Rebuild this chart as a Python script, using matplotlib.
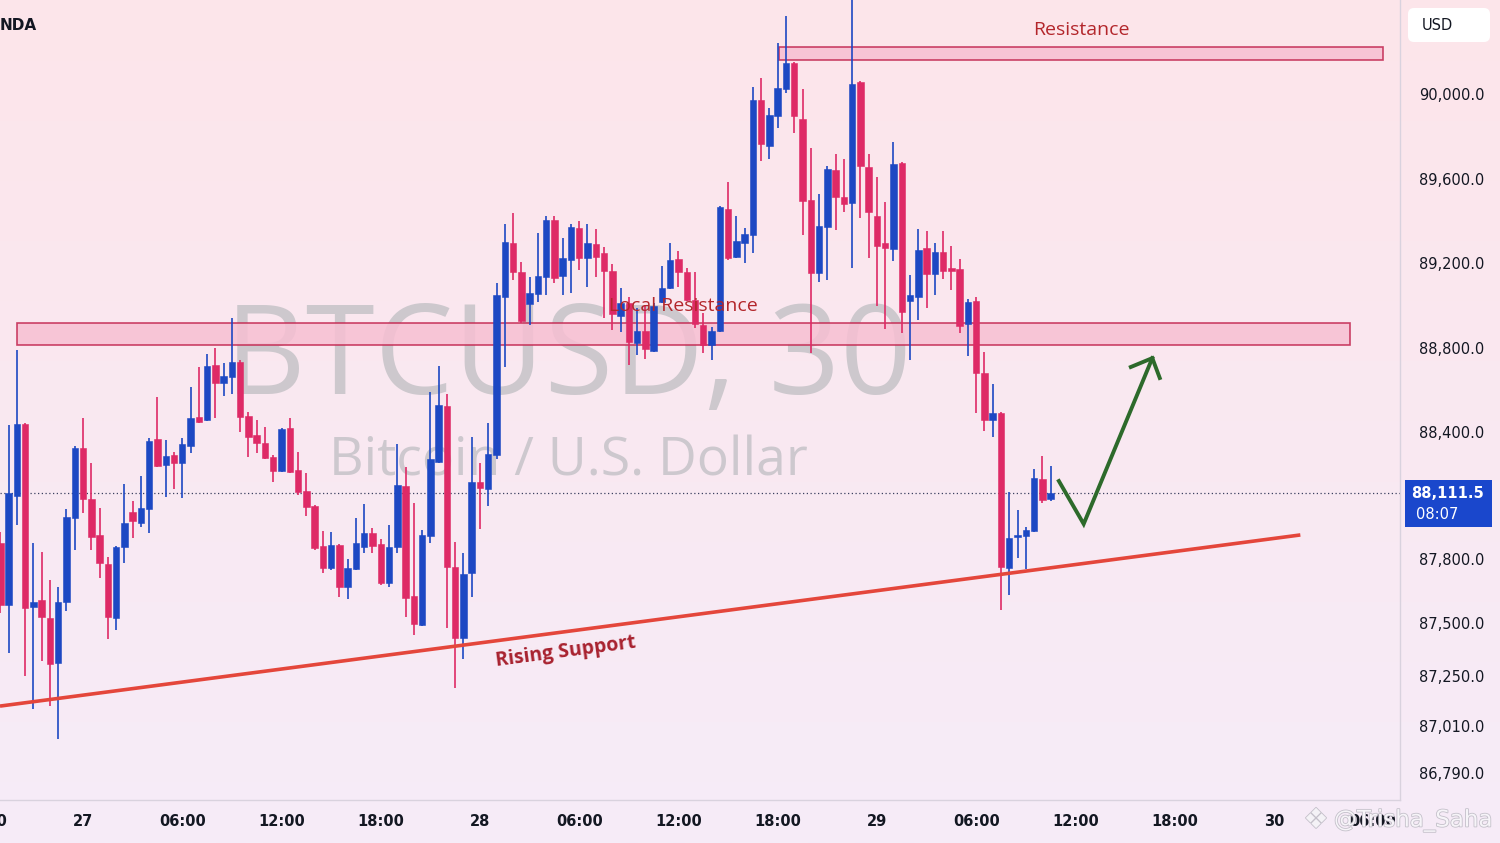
import matplotlib
matplotlib.use("Agg")
import matplotlib.pyplot as plt
import matplotlib.transforms as mtransforms
import matplotlib.patheffects as pe
from matplotlib.patches import Rectangle, FancyBboxPatch
import numpy as np

# ---------------- data (30-minute bars, index 0 = 27th 00:00) ----------------
first_bar = -10
opens = [87877, 87584, 88099, 88439, 87574, 87607, 87522, 87309, 87598, 87995,
         88326, 88085, 87914, 87777, 87522, 87858, 88023, 87971, 88037, 88368,
         88245, 88293, 88255, 88335, 88472, 88458, 88718, 88633, 88662, 88733,
         88477, 88387, 88350, 88283, 88217, 88420, 88222, 88123, 88052, 87862,
         87758, 87867, 87669, 87754, 87858, 87924, 87872, 87688, 87858, 88146,
         87626, 87489, 87910, 88260, 88524, 87763, 87428, 87735, 88165, 88132,
         88293, 89040, 89295, 89158, 89007, 89054, 89134, 89404, 89139, 89215,
         89366, 89224, 89290, 89248, 89163, 88950, 89011, 88822, 88879, 88785,
         89016, 89082, 89219, 89158, 89026, 88907, 88813, 88879, 89456, 89229,
         89295, 89333, 89971, 89754, 89896, 90023, 90146, 89881, 89498, 89153,
         89371, 89640, 89513, 89484, 90056, 89654, 89423, 89295, 89267, 89673,
         89021, 89040, 89272, 89148, 89252, 89177, 89172, 88912, 89021, 88680,
         88458, 88491, 87758, 87905, 87910, 87933, 88179, 88085]
highs = [87929, 88435, 88789, 88445, 87877, 87834, 87702, 87669, 88037, 88335,
         88468, 88255, 88042, 87810, 87862, 88156, 88075, 88194, 88373, 88567,
         88364, 88307, 88373, 88614, 88709, 88770, 88799, 88728, 88941, 88742,
         88496, 88458, 88425, 88293, 88420, 88468, 88307, 88208, 88055, 87933,
         87929, 87872, 87801, 87995, 88061, 87948, 87896, 87962, 88345, 88236,
         88066, 87938, 88591, 88714, 88581, 87881, 87829, 88378, 88255, 88444,
         89106, 89385, 89437, 89205, 89134, 89342, 89423, 89423, 89319, 89385,
         89399, 89385, 89361, 89276, 89196, 89082, 89040, 88988, 89002, 89011,
         89186, 89295, 89257, 89177, 89160, 88964, 88898, 89470, 89584, 89423,
         89366, 90033, 90075, 89933, 90241, 90368, 90150, 90023, 89744, 89527,
         89659, 89716, 89692, 90480, 90060, 89716, 89607, 89489, 89773, 89680,
         89144, 89361, 89352, 89295, 89352, 89281, 89219, 89030, 89040, 88780,
         88628, 88495, 88118, 88033, 87952, 88227, 88288, 88241]
lows = [87546, 87357, 87962, 87248, 87092, 87319, 87106, 86950, 87555, 87844,
        88018, 87844, 87711, 87423, 87465, 87782, 87900, 87952, 87924, 88235,
        88094, 88132, 88089, 88302, 88444, 88455, 88468, 88572, 88581, 88402,
        88283, 88302, 88275, 88165, 88212, 88208, 88104, 88004, 87844, 87735,
        87749, 87621, 87612, 87750, 87829, 87829, 87678, 87669, 87829, 87527,
        87442, 87485, 87877, 88255, 87475, 87191, 87328, 87621, 87943, 88052,
        88274, 88709, 89120, 88917, 88907, 89016, 89049, 89106, 89049, 89059,
        89167, 89087, 89134, 88941, 88884, 88874, 88718, 88766, 88747, 88780,
        89012, 89078, 89087, 89022, 88893, 88775, 88742, 88875, 89215, 89225,
        89200, 89248, 89683, 89692, 89839, 90004, 89815, 89333, 88775, 89111,
        89120, 89357, 89442, 89177, 89413, 89224, 88997, 88889, 89210, 88870,
        88742, 88931, 88988, 89049, 89125, 89073, 88870, 88761, 88491, 88406,
        88378, 87560, 87631, 87806, 87754, 87930, 88066, 88075]
closes = [87584, 88113, 88439, 87569, 87598, 87527, 87305, 87598, 88000, 88326,
          88085, 87905, 87782, 87527, 87858, 87971, 87981, 88042, 88359, 88241,
          88288, 88255, 88345, 88468, 88449, 88714, 88633, 88666, 88733, 88472,
          88378, 88350, 88279, 88217, 88416, 88212, 88118, 88047, 87853, 87758,
          87867, 87669, 87758, 87877, 87924, 87862, 87688, 87858, 88151, 87617,
          87494, 87914, 88274, 88529, 87763, 87428, 87730, 88165, 88137, 88297,
          89049, 89300, 89158, 88926, 89059, 89139, 89404, 89130, 89224, 89371,
          89224, 89295, 89229, 89163, 88959, 89011, 88827, 88879, 88794, 88997,
          89082, 89215, 89158, 89026, 88912, 88813, 88879, 89465, 89224, 89305,
          89338, 89971, 89763, 89900, 90028, 90146, 89896, 89494, 89153, 89375,
          89645, 89513, 89480, 90047, 89659, 89442, 89281, 89272, 89669, 88969,
          89049, 89262, 89148, 89252, 89163, 89163, 88903, 89016, 88680, 88458,
          88491, 87763, 87900, 87914, 87938, 88184, 88080, 88111.5]

tick_bars = [0, 12, 24, 36, 48, 60, 72, 84, 96, 108, 120, 132, 144, 156]
tick_labels = ["27", "06:00", "12:00", "18:00", "28", "06:00", "12:00",
               "18:00", "29", "06:00", "12:00", "18:00", "30", "06:00"]
cut_tick_bar = -12          # "18:00" of the 26th, only partly visible at the left edge
cut_tick_label = "18:00"
price_ticks = [90000, 89600, 89200, 88800, 88400, 87800, 87500, 87250, 87010, 86790]
last_price = 88111.5
countdown = "08:07"

# drawings
resistance_zone = dict(x0=84.2, x1=157.2, low=90160, high=90222)
local_zone = dict(x0=-8.0, x1=153.2, low=88813, high=88917)
support_x = [-10.04, 147.2]
support_y = [87106, 87915]
arrow_x = [118.0, 121.0, 129.3]
arrow_y = [88170, 87967, 88751]
arrow_head_x = [126.7, 129.3, 130.2]
arrow_head_y = [88709, 88751, 88657]

x_range = (-10.04, 159.25)
y_range = (86662, 90444)

UP = "#1d48c3"
DOWN = "#de2a66"
TXT = "#131722"

# ---------------- figure ----------------
W, H = 1500, 843
fig = plt.figure(figsize=(W / 100, H / 100), dpi=100)

# background gradient
bg = fig.add_axes([0, 0, 1, 1], zorder=-10)
top = np.array([253, 229, 234]) / 255
bot = np.array([246, 236, 248]) / 255
t = np.linspace(0, 1, 843)[:, None]
grad = top[None, :] * (1 - t) + bot[None, :] * t
bg.imshow(grad[:, None, :], aspect="auto", extent=[0, 1, 0, 1], interpolation="bilinear")
bg.set_axis_off()

ax = fig.add_axes([0, 43 / H, 1400 / W, 800 / H])
ax.patch.set_alpha(0)

# watermark
wm_font = ["Open Sans", "DejaVu Sans"]
ax.text(0.406, 0.5475, "BTCUSD, 30", transform=ax.transAxes, ha="center", va="center",
        fontsize=90, color="#cdc8cd", family=wm_font, zorder=0)
ax.text(0.406, 0.4225, "Bitcoin / U.S. Dollar", transform=ax.transAxes, ha="center",
        va="center", fontsize=38.5, color="#cdc8ce", family=wm_font, zorder=0)

# zones
for z in (resistance_zone, local_zone):
    ax.add_patch(Rectangle((z["x0"], z["low"]), z["x1"] - z["x0"], z["high"] - z["low"],
                           facecolor="#f7bfd2", edgecolor="#c2254f", lw=1.2, alpha=0.85,
                           zorder=1))

# candles
n = len(opens)
xs = np.arange(first_bar, first_bar + n)
o = np.array(opens, float); c = np.array(closes, float)
hi = np.array(highs, float); lo = np.array(lows, float)
colors = np.where(c >= o, UP, DOWN)
ax.vlines(xs, lo, hi, colors=colors, lw=1.2, zorder=3)
body_low = np.minimum(o, c)
body_h = np.maximum(np.abs(c - o), 6)
ax.bar(xs, body_h, bottom=body_low, width=0.78, color=colors, edgecolor=colors,
       lw=0.4, zorder=4)

# last price line
ax.axhline(last_price, color="#3b4060", lw=0.9, ls=(0, (1, 2)), zorder=2)

# support line
ax.plot(support_x, support_y, color="#e4463b", lw=2.6, zorder=5, solid_capstyle="butt")

# green arrow
ax.plot(arrow_x, arrow_y, color="#2d6a2b", lw=2.8, zorder=6, solid_joinstyle="miter")
ax.plot(arrow_head_x, arrow_head_y, color="#2d6a2b", lw=2.8, zorder=6,
        solid_joinstyle="miter")

# labels
lbl_font = ["Open Sans", "DejaVu Sans"]
ax.text(120.7, 90302, "Resistance", ha="center", va="center", fontsize=14,
        color="#b3262b", family=lbl_font, zorder=7)
ax.text(72.55, 88997, "Local Resistance", ha="center", va="center", fontsize=14,
        color="#b3262b", family=lbl_font, zorder=7)
ax.text(58.4, 87361, "Rising Support", ha="center", va="center", fontsize=14,
        color="#a8222f", family=lbl_font, fontweight="bold", rotation=7.5,
        rotation_mode="anchor", zorder=7)

# axes styling
for s in ("top", "left"):
    ax.spines[s].set_visible(False)
for s in ("right", "bottom"):
    ax.spines[s].set_color("#d9d2de")
    ax.spines[s].set_linewidth(1.0)
ax.yaxis.tick_right()
ax.set_yticks(price_ticks)
ax.set_yticklabels([f"{p:,.1f}" for p in price_ticks])
ax.tick_params(axis="y", length=0, pad=14, labelsize=10.5, labelcolor=TXT)
ax.set_xticks(tick_bars)
ax.set_xticklabels(tick_labels)
ax.tick_params(axis="x", length=0, pad=10, labelsize=10.5, labelcolor=TXT)
for lab in ax.get_xticklabels():
    lab.set_fontweight("bold")
# limits set after the ticks so that the ticks do not widen the view
ax.set_xlim(*x_range)
ax.set_ylim(*y_range)

# partly visible tick label at the left edge
xblend = mtransforms.blended_transform_factory(ax.transData, ax.transAxes)
ax.text(cut_tick_bar, -22 / 800, cut_tick_label, transform=xblend, ha="center",
        va="center", fontsize=10.5, fontweight="bold", color=TXT, clip_on=False)

# price label box
blend = mtransforms.blended_transform_factory(ax.transAxes, ax.transData)
px = (y_range[1] - y_range[0]) / 800.0
ax.add_patch(Rectangle((1405 / 1400, last_price - 34 * px), 87 / 1400, 47 * px,
                       facecolor="#1a47cc", edgecolor="none", transform=blend,
                       clip_on=False, zorder=8))
ax.text(1448 / 1400, last_price, f"{last_price:,.1f}", transform=blend, ha="center",
        va="center", fontsize=10.5, color="white", fontweight="bold", zorder=9,
        clip_on=False)
ax.text(1437 / 1400, last_price - 21 * px, countdown, transform=blend, ha="center",
        va="center", fontsize=10.5, color="white", zorder=9, clip_on=False)

# USD box
fig.patches.append(FancyBboxPatch((1408 / W, 1 - 42 / H), 82 / W, 34 / H,
                                  boxstyle="round,pad=0,rounding_size=0.004",
                                  mutation_aspect=W / H, facecolor="white",
                                  edgecolor="none", transform=fig.transFigure))
fig.text(1437 / W, 1 - 25 / H, "USD", ha="center", va="center", fontsize=10.5, color=TXT)

# top-left symbol fragment
fig.text(0, 1 - 25 / H, "NDA", ha="left", va="center", fontsize=11, fontweight="bold",
         color=TXT)

# author watermark
fig.text(1316 / W, 1 - 820 / H, "\u2756", ha="center", va="center", fontsize=20,
         color="#f4f2f6", path_effects=[pe.withStroke(linewidth=1.2, foreground="#c4c0ca")])
fig.text(1334 / W, 1 - 820 / H, "@Trisha_Saha", ha="left", va="center", fontsize=16.5,
         color="#f6f4f8", path_effects=[pe.withStroke(linewidth=1.2, foreground="#c4c0ca")])

fig.savefig("out.png", dpi=100)
